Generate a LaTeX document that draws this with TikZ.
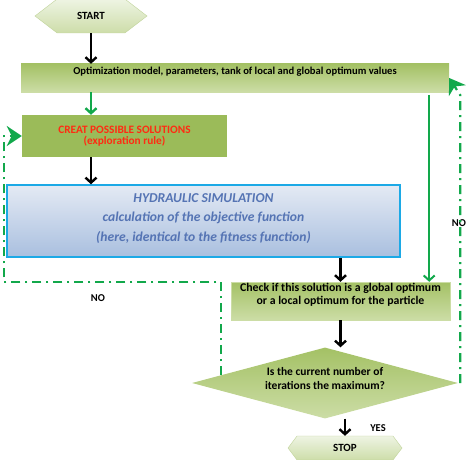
\documentclass[tikz,border=0pt]{standalone}
\usepackage{fontspec}
\setmainfont{Carlito}
\usetikzlibrary{arrows.meta,shapes.symbols,shapes.geometric,calc}

\definecolor{loopgreen}{HTML}{12A84B}
\definecolor{leaf}{HTML}{9BBB59}
\definecolor{leaflight}{HTML}{CCDDA6}
\definecolor{leafmid}{HTML}{A4C165}
\definecolor{hexlight}{HTML}{EEF4E3}
\definecolor{hexdark}{HTML}{CDDDA9}
\definecolor{hexedge}{HTML}{C0D39A}
\definecolor{alert}{HTML}{FF2B12}
\definecolor{hydrolight}{HTML}{E4EAF4}
\definecolor{hydromid}{HTML}{D2DDEE}
\definecolor{hydrodark}{HTML}{A9BFDF}
\definecolor{hydroedge}{HTML}{1CA9E6}
\definecolor{hydrotext}{HTML}{5574B4}

\begin{document}
\begin{tikzpicture}[x=1pt, y=-1pt,
    arrow/.style={line width=2.4pt, -{Straight Barb[length=5pt, width=11pt]}},
    loopline/.style={draw=loopgreen, line width=2.2pt,
        dash pattern=on 9pt off 5pt on 2pt off 5pt,
        -{Stealth[length=15pt, width=20pt, fill=loopgreen]}},
    hexa/.style={signal, signal to=east and west, draw=hexedge,
        top color=hexlight, bottom color=hexdark, inner sep=0pt,
        font=\bfseries\fontsize{11}{12}\selectfont},
    panel/.style={rectangle, inner sep=0pt, align=center,
        font=\bfseries\fontsize{10.6}{13}\selectfont},
    tag/.style={font=\bfseries\fontsize{10.5}{11}\selectfont}
]
\useasboundingbox (0,0) rectangle (474,460);
\clip (0,0) rectangle (474,460);

\node[hexa, minimum width=112pt, minimum height=34pt, signal pointer angle=75] (start) at (91,16) {START};

\node[panel, top color=leafmid, bottom color=leaflight, minimum width=428pt, minimum height=28pt,
    text depth=14pt] (opt) at (235,78)
    {Optimization model, parameters, tank of local and global optimum values};

\node[panel, fill=leaf, text=alert, minimum width=205pt, minimum height=42pt,
    font=\bfseries\fontsize{11.3}{11.5}\selectfont] (create) at (124.5,136)
    {CREAT POSSIBLE SOLUTIONS\\(exploration rule)};

\node[panel, draw=hydroedge, line width=1.5pt, top color=hydrolight, middle color=hydromid, bottom color=hydrodark,
    minimum width=393pt, minimum height=72pt, text=hydrotext, text depth=7pt,
    font=\bfseries\itshape\fontsize{13.6}{19.5}\selectfont] (hydro) at (203.5,221)
    {HYDRAULIC SIMULATION\\calculation of the objective function\hspace*{36pt}\\(here, identical to the fitness function)};

\node[panel, draw=leaflight, top color=leafmid, bottom color=leaflight, minimum width=219pt, minimum height=38pt,
    font=\bfseries\fontsize{11.8}{13}\selectfont, text depth=14pt] (check) at (340.5,301)
    {Check if this solution is a global optimum\\or a local optimum for the particle};

\node[diamond, aspect=3.7, inner sep=0pt, align=center, top color=leafmid, bottom color=leaflight,
    minimum width=266pt, minimum height=71pt, text depth=9pt,
    font=\bfseries\fontsize{11.5}{14}\selectfont] (cond) at (325,383)
    {Is the current number of\\iterations the maximum?};

\node[hexa, minimum width=114pt, minimum height=24pt, signal pointer angle=106] (stop) at (345,448) {STOP};

\node[tag] (yes) at (378,428) {YES};
\node[tag] (noLeft) at (98,298) {NO};
\node[tag] (noRight) at (459,223) {NO};

% main flow
\draw[arrow] (start.south) -- (start.south |- opt.north);
\draw[arrow, color=loopgreen] (start.south |- opt.south) -- (start.south |- create.north);
\draw[arrow] (start.south |- create.south) -- (start.south |- hydro.north);
\draw[arrow] (check.north |- hydro.south) -- (check.north);
\draw[arrow] (check.south) -- (check.south |- cond.north);
\draw[arrow] (stop.north |- cond.south) -- (stop.north);

% loops back
\coordinate (noTop) at ([xshift=-20pt, yshift=-3pt]opt.south east);
\draw[arrow, color=loopgreen, line width=2pt] (noTop) -- (noTop |- check.north);

\coordinate (rightTurn) at ([xshift=11pt, yshift=-17pt]opt.east);
\draw[loopline] (cond.east -| rightTurn) -- (rightTurn) -- (opt.east);

\coordinate (leftStart) at ($(cond.west)!0.22!(cond.north)$);
\coordinate (leftTurn) at (4,282);
\draw[loopline] (leftStart) |- (leftTurn) |- (create.west);

\end{tikzpicture}
\end{document}
